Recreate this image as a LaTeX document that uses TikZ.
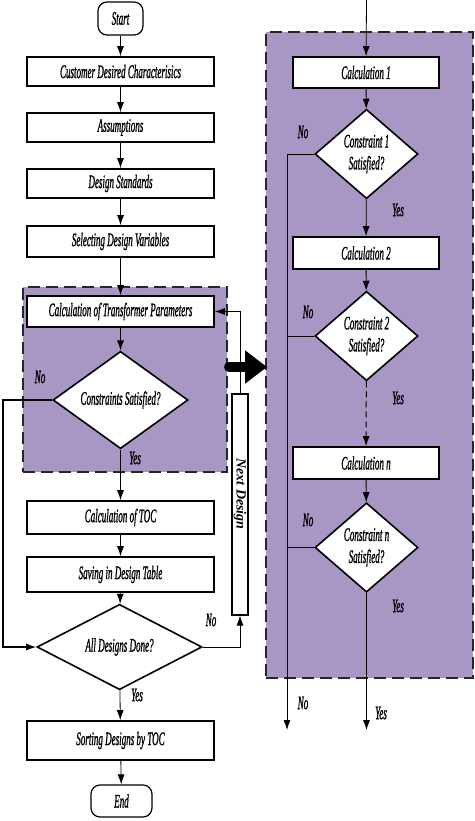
\documentclass[tikz,border=0pt]{standalone}
\usepackage{fontspec}
\setmainfont{Liberation Serif}
\newfontfamily\lf{Liberation Serif}[ItalicFeatures={FakeBold=1.6}]
\usetikzlibrary{shapes.geometric,arrows.meta}
\definecolor{panel}{RGB}{168,150,196}
\newcommand\tx[1]{\scalebox{0.475}[1]{\fontsize{19}{22}\lf\itshape #1}}
\newcommand\ttx[2]{\scalebox{0.475}[1]{\fontsize{19}{22}\lf\itshape\begin{tabular}{@{}c@{}}#1\\#2\end{tabular}}}
\begin{document}
\begin{tikzpicture}[x=1pt,y=-1pt,
  box/.style={draw,line width=1.6pt,fill=white,minimum width=187pt,inner sep=0pt},
  rbox/.style={draw,line width=1.6pt,fill=white,minimum width=146pt,inner sep=0pt},
  term/.style={draw,line width=1.2pt,fill=white,rounded corners=9pt,inner sep=0pt},
  dia/.style={draw,diamond,line width=1.6pt,fill=white,inner sep=0pt},
  pan/.style={draw=black!85,fill=panel,line width=2pt,dash pattern=on 12pt off 6pt,inner sep=0pt},
  arr/.style={line width=0.8pt,-{Latex[length=10pt,width=7pt]}},
  ln/.style={line width=0.8pt},
  lab/.style={inner sep=0pt}]
\useasboundingbox (0,0) rectangle (474,821);
% panels
\node[pan,minimum width=204pt,minimum height=185pt] (lp) at (125,379.5) {};
\node[pan,minimum width=207pt,minimum height=646pt] (rp) at (369.5,355) {};
% left column
\node[term,minimum width=45pt,minimum height=33pt] (start) at (120.5,18.5) {\tx{Start}};
\node[box,minimum height=29pt] (cdc) at (120.5,71.5) {\tx{Customer Desired Characterisics}};
\node[box,minimum height=29pt] (ass) at (120.5,127.5) {\tx{Assumptions}};
\node[box,minimum height=29pt] (ds) at (120.5,183.5) {\tx{Design Standards}};
\node[box,minimum height=31pt] (sdv) at (120.5,241.5) {\tx{Selecting Design Variables}};
\node[box,minimum height=31pt] (ctp) at (120.5,311.5) {\tx{Calculation of Transformer Parameters}};
\node[dia,minimum width=135pt,minimum height=86pt] (cs) at (120.5,400) {\tx{Constraints Satisfied?}};
\node[box,minimum height=33pt] (toc) at (120.5,517.5) {\tx{Calculation of TOC}};
\node[box,minimum height=35pt] (sav) at (120.5,574.5) {\tx{Saving in Design Table}};
\node[dia,minimum width=165pt,minimum height=76pt] (adone) at (119.5,647) {\tx{All Designs Done?}};
\node[box,minimum height=39pt] (sort) at (120.5,740.5) {\tx{Sorting Designs by TOC}};
\node[term,minimum width=61pt,minimum height=32pt] (end) at (121.5,801) {\tx{End}};
% next design
\node[draw,line width=1.2pt,fill=white,minimum width=16pt,minimum height=221pt,inner sep=0pt] (nd) at (240,504.5) {};
\node[rotate=-90,inner sep=0pt,font=\fontsize{14}{16}\selectfont\bfseries\itshape] (ndt) at (240,494) {Next Design};
% right column
\node[rbox,minimum height=31pt] (c1) at (366,72.5) {\tx{Calculation 1}};
\node[dia,minimum width=103pt,minimum height=86pt] (d1) at (366.5,154) {\ttx{Constraint 1}{Satisfied?}};
\node[rbox,minimum height=32pt] (c2) at (366,253) {\tx{Calculation 2}};
\node[dia,minimum width=103pt,minimum height=86pt] (d2) at (366.5,336) {\ttx{Constraint 2}{Satisfied?}};
\node[rbox,minimum height=32pt] (cn) at (366,463) {\tx{Calculation n}};
\node[dia,minimum width=103pt,minimum height=87pt] (dn) at (366.5,547.5) {\ttx{Constraint n}{Satisfied?}};
% coordinates
\coordinate (top) at (366.5,0);
\coordinate (lx) at (3,400);
\coordinate (rx) at (287,730);
\coordinate (ry) at (366.5,730);
\coordinate (ba) at (229,367);
\coordinate (bb) at (267,367);
% left arrows
\draw[arr] (start) -- (cdc);
\draw[arr] (cdc) -- (ass);
\draw[arr] (ass) -- (ds);
\draw[arr] (ds) -- (sdv);
\draw[arr] (sdv) -- (ctp);
\draw[arr] (ctp) -- (cs);
\draw[arr] (cs) -- (toc);
\draw[arr] (toc) -- (sav);
\draw[arr] (sav) -- (adone);
\draw[arr] (adone) -- (sort);
\draw[arr] (sort) -- (end);
\draw[arr,line width=1.1pt] (cs.west) -- (lx) |- (adone.west);
\draw[arr] (adone.east) -| (nd.south);
\draw[arr] (nd.north) |- (ctp.east);
% big arrow
\draw[line width=10pt,line cap=round,-{Triangle[length=22pt,width=32pt]}] (ba) -- (bb);
% right arrows
\draw[arr] (top) -- (c1);
\draw[arr] (c1) -- (d1);
\draw[arr] (d1) -- (c2);
\draw[arr] (c2) -- (d2);
\draw[arr,dash pattern=on 6pt off 4pt,line width=1pt] (d2) -- (cn);
\draw[arr] (cn) -- (dn);
\draw[arr] (d1.west) -| (rx);
\draw[ln] (d2.west) -- (d2.west -| rx);
\draw[ln] (dn.west) -- (dn.west -| rx);
\draw[arr] (dn.south) -- (ry);
% labels
\node[lab] (l1) at (40,377) {\tx{No}};
\node[lab] (l2) at (135,458) {\tx{Yes}};
\node[lab] (l3) at (211,620) {\tx{No}};
\node[lab] (l4) at (137,695) {\tx{Yes}};
\node[lab] (l5) at (303,132) {\tx{No}};
\node[lab] (l6) at (398,210) {\tx{Yes}};
\node[lab] (l7) at (308,312) {\tx{No}};
\node[lab] (l8) at (398,398) {\tx{Yes}};
\node[lab] (l9) at (308,520) {\tx{No}};
\node[lab] (l10) at (398,606) {\tx{Yes}};
\node[lab] (l11) at (303,703) {\tx{No}};
\node[lab] (l12) at (381,713) {\tx{Yes}};
\end{tikzpicture}
\end{document}
